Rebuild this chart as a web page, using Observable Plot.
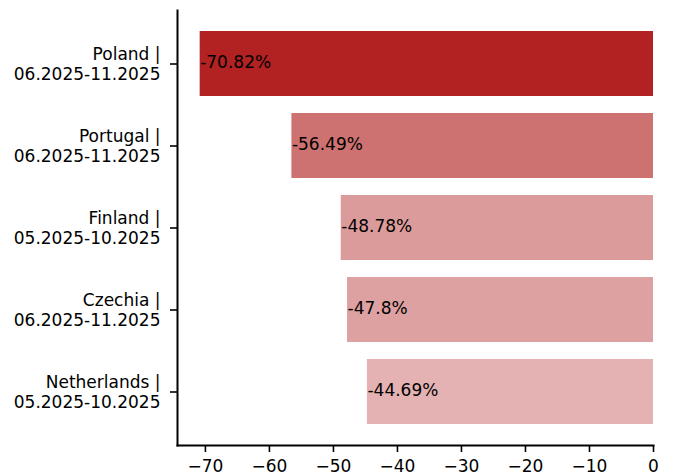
<!DOCTYPE html>
<html><head><meta charset="utf-8">
<script src="https://cdn.jsdelivr.net/npm/d3@7"></script>
<script src="https://cdn.jsdelivr.net/npm/@observablehq/plot@0.6"></script>
<style>body{margin:0;background:#fff}</style>
</head><body><div id="chart"></div>
<script>
const countries = ["Poland", "Portugal", "Finland", "Czechia", "Netherlands"];
const periods = ["06.2025-11.2025", "06.2025-11.2025", "05.2025-10.2025", "06.2025-11.2025", "05.2025-10.2025"];
const values = [-70.82, -56.49, -48.78, -47.8, -44.69];
const xTicks = [-70, -60, -50, -40, -30, -20, -10, 0];

const data = countries.map((c, i) => ({key: c + " |\n" + periods[i], value: values[i], mag: Math.abs(values[i])}));
const xMin = d3.min(values) * 1.05;
const font = "'DejaVu Sans', sans-serif";
const fs = 17;

const chart = Plot.plot({
  width: 674, height: 476,
  marginLeft: 177, marginRight: 21, marginTop: 10, marginBottom: 31,
  style: {fontFamily: font, fontSize: fs + "px", color: "#000", background: "#fff", overflow: "visible"},
  x: {domain: [xMin, 0], ticks: xTicks, label: null},
  y: {domain: data.map(d => d.key), paddingInner: 0.21, paddingOuter: 0.24, label: null},
  opacity: {domain: [d3.min(data, d => d.mag), d3.max(data, d => d.mag)], range: [0.35, 1]},
  marks: [
    Plot.barX(data, {x: "value", y: "key", fill: "firebrick", fillOpacity: "mag"}),
    Plot.text(data, {x: "value", y: "key", text: d => d.value + "%", textAnchor: "start", fill: "black", fontSize: fs, dy: -1.5}),
    Plot.frame({anchor: "left", stroke: "black", strokeWidth: 2}),
    Plot.frame({anchor: "bottom", stroke: "black", strokeWidth: 2}),
    Plot.axisX({ticks: xTicks, tickSize: 7, tickPadding: 7, strokeWidth: 1.6, fontSize: fs, label: null}),
    Plot.axisY({tickSize: 7, tickPadding: 10, strokeWidth: 1.6, fontSize: fs, lineHeight: 1.15, label: null})
  ]
});
document.getElementById("chart").append(chart);
</script>
</body></html>
